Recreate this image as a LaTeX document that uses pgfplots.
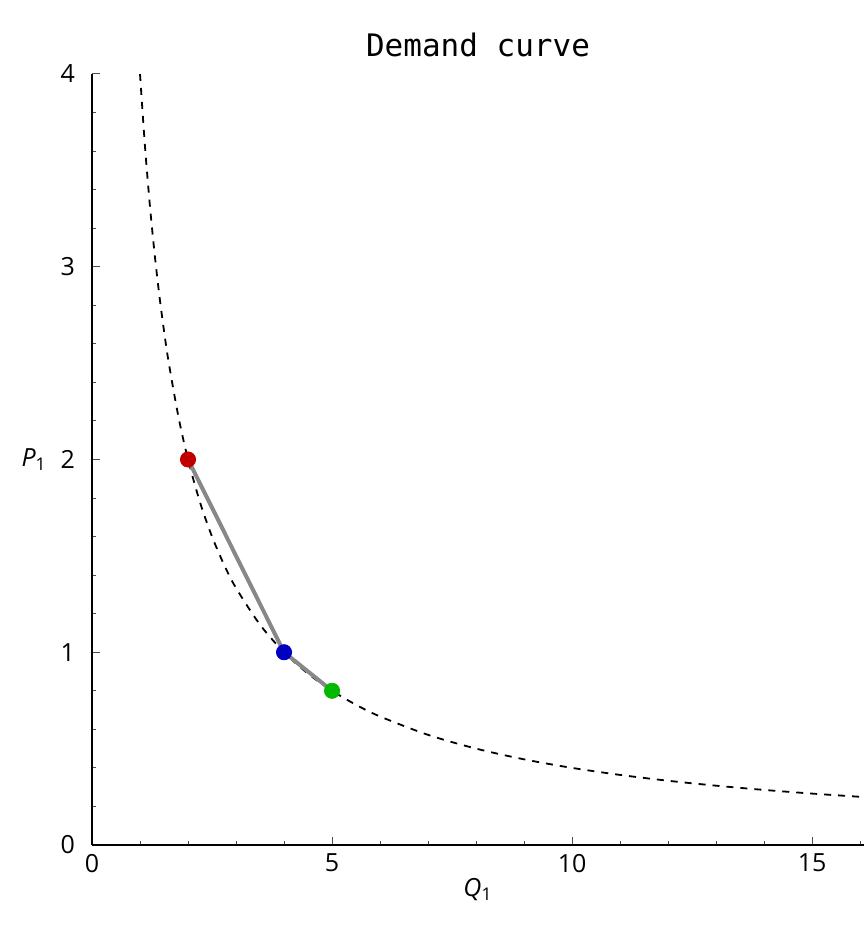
\documentclass[border=0pt]{standalone}
\usepackage{fontspec}
\setmainfont{Open Sans}
\newfontfamily\titlefont{DejaVu Sans Mono}
\usepackage{pgfplots}
\pgfplotsset{compat=1.18}
\definecolor{ptred}{RGB}{192,0,0}
\definecolor{ptblue}{RGB}{0,0,192}
\definecolor{ptgreen}{RGB}{0,185,0}
\definecolor{chord}{RGB}{136,136,136}
\begin{document}
\begin{tikzpicture}
\begin{axis}[
    scale only axis,
    width=386pt, height=385.5pt,
    xmin=0, xmax=16.08, ymin=0, ymax=4,
    axis lines=left,
    axis line style={-, line width=0.7pt},
    tick align=inside,
    major tick length=4pt, minor tick length=2pt,
    tick style={line width=0.5pt, black!70},
    xtick={0,5,10,15}, minor xtick={1,2,3,4,6,7,8,9,11,12,13,14,16},
    ytick={0,1,2,3,4}, minor y tick num=4,
    tick label style={font=\fontsize{12.5}{14}\selectfont},
    /pgf/number format/assume math mode=true,
    xticklabel style={yshift=-1pt},
    yticklabel style={xshift=-5pt},
    xlabel={{\itshape Q}\textsubscript{1}},
    ylabel={{\itshape P}\textsubscript{1}},
    label style={font=\fontsize{12.5}{14}\selectfont},
    xlabel style={at={(axis description cs:0.5,0)}, anchor=north, yshift=-13pt},
    ylabel style={at={(axis description cs:-0.075,0.5)}, rotate=-90, anchor=center},
    title={\titlefont Demand curve},
    title style={font=\fontsize{15.5}{17}\selectfont, at={(axis description cs:0.5,1)}, anchor=base, yshift=2.5pt},
    clip=false,
  ]
  \addplot[black, line width=0.9pt, dash pattern=on 3.5pt off 3.5pt, smooth] coordinates {
    (1,4) (1.1,3.6364) (1.2,3.3333) (1.3,3.0769) (1.4,2.8571) (1.5,2.6667)
    (1.6,2.5) (1.8,2.2222) (2,2) (2.25,1.7778) (2.5,1.6) (2.75,1.4545)
    (3,1.3333) (3.5,1.1429) (4,1) (4.5,0.8889) (5,0.8) (5.5,0.7273)
    (6,0.6667) (7,0.5714) (8,0.5) (9,0.4444) (10,0.4) (11,0.3636)
    (12,0.3333) (13,0.3077) (14,0.2857) (15,0.2667) (16,0.25) (16.08,0.2488)
  };
  \addplot[chord, line width=2pt] coordinates {(2,2) (4,1) (5,0.8)};
  \addplot[only marks, mark=*, mark size=3.8pt, mark options={draw=ptred, fill=ptred}] coordinates {(2,2)};
  \addplot[only marks, mark=*, mark size=3.8pt, mark options={draw=ptblue, fill=ptblue}] coordinates {(4,1)};
  \addplot[only marks, mark=*, mark size=3.8pt, mark options={draw=ptgreen, fill=ptgreen}] coordinates {(5,0.8)};
\end{axis}
\pgfresetboundingbox
\path ([xshift=-46pt, yshift=-45pt]current axis.south west) rectangle ([yshift=37pt]current axis.north east);
\end{tikzpicture}
\end{document}
